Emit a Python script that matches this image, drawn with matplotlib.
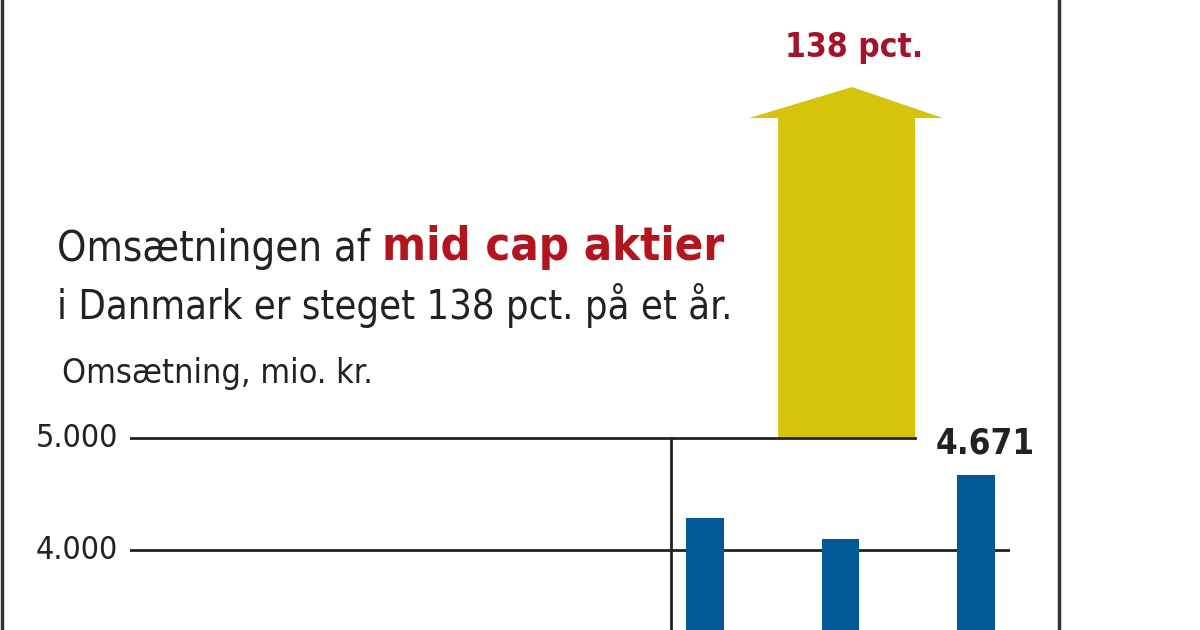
import matplotlib
matplotlib.use("Agg")
import matplotlib.pyplot as plt
from matplotlib.lines import Line2D
from matplotlib.patches import Polygon

plt.rcParams['font.family'] = ['DejaVu Sans']
plt.rcParams['font.stretch'] = 'condensed'

# data
periods = [0, 1, 2]
turnover = [4286, 4098, 4671]
yticks = [4000, 5000]
ytick_labels = ["4.000", "5.000"]
growth_label = "138 pct."
last_label = "4.671"

BLUE = "#005a96"
YELLOW = "#d5c40b"
RED = "#b3151f"
DARKRED = "#a5132a"
INK = "#222222"

fig = plt.figure(figsize=(12, 6.3), dpi=100)
fig.patch.set_facecolor("white")

# axes spans x 130..1010 px and full height
ax = fig.add_axes([130 / 1200, 0, 880 / 1200, 1])
ax.set_xlim(-4.24, 2.25)
ax.set_ylim(3286, 8911)
ax.axis("off")

ax.bar(periods, turnover, width=0.28, color=BLUE, zorder=3)

# gridlines
ax.axhline(4000, xmin=0, xmax=1, color=INK, lw=2, zorder=2)
ax.axhline(5000, xmin=0, xmax=0.892, color=INK, lw=2, zorder=2)
ax.plot([-0.25, -0.25], [3286, 5000], color=INK, lw=2, zorder=2)

for v, lab in zip(yticks, ytick_labels):
    ax.text(-4.33, v, lab, ha="right", va="center", fontsize=23, color=INK)

# value label over last bar
ax.text(2.07, 4950, last_label, ha="center", va="center", fontsize=25,
        fontweight="bold", color=INK)

# yellow arrow standing on the 5000 line
sx0, sx1 = 0.54, 1.55
hx0, hx1, tip_x = 0.325, 1.756, 1.085
head_y, tip_y = 7857, 8134
arrow = Polygon([(sx0, 5000), (sx1, 5000), (sx1, head_y), (hx1, head_y),
                 (tip_x, tip_y), (hx0, head_y), (sx0, head_y)],
                closed=True, facecolor=YELLOW, edgecolor="none", zorder=1,
                clip_on=False)
ax.add_patch(arrow)
ax.text(1.1, 8490, growth_label, ha="center", va="center", fontsize=24,
        fontweight="bold", color=DARKRED)

# titles
t1 = fig.text(57 / 1200, 1 - 261 / 630, "Omsætningen af ", fontsize=30,
              color=INK, va="baseline")
ax.annotate("mid cap aktier", xy=(1, 0), xycoords=t1, xytext=(0, 0),
            textcoords="offset points", fontsize=33.8, fontweight="bold",
            color=RED, va="bottom", ha="left", annotation_clip=False)
fig.text(57 / 1200, 1 - 319 / 630, "i Danmark er steget 138 pct. på et år.",
         fontsize=28.5, color=INK, va="baseline")
fig.text(62 / 1200, 1 - 383 / 630, "Omsætning, mio. kr.", fontsize=24.5,
         color=INK, va="baseline")

# frame lines
fig.add_artist(Line2D([2 / 1200, 2 / 1200], [0, 1], color="#333333", lw=2.5))
fig.add_artist(Line2D([1059 / 1200, 1059 / 1200], [0, 1], color="#333333", lw=2.5))

fig.savefig("out.png", dpi=100, facecolor="white")
